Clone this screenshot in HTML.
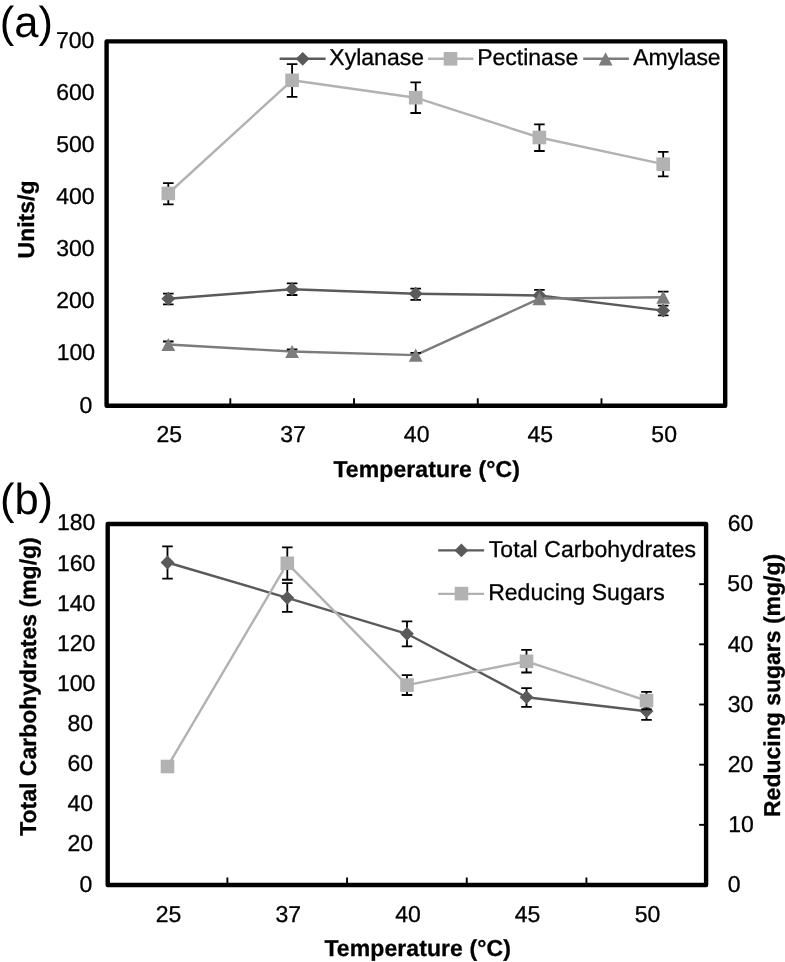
<!DOCTYPE html>
<html><head><meta charset="utf-8"><title>Temperature effect on enzyme activity</title>
<style>
html,body{margin:0;padding:0;background:#fff;}
body{width:785px;height:962px;overflow:hidden;}
svg{display:block;}
svg text{font-family:"Liberation Sans", Arial, Helvetica, sans-serif;fill:#000;text-rendering:geometricPrecision;stroke:#000;stroke-width:0.3px;}
</style></head>
<body>
<svg width="785" height="962" viewBox="0 0 785 962">
<rect width="785" height="962" fill="#fff"/>
<rect x="106.6" y="41.4" width="618.60" height="364.40" fill="none" stroke="#000" stroke-width="4.4" stroke-linejoin="round"/>
<line x1="230.32" y1="398.30" x2="230.32" y2="405.80" stroke="#000" stroke-width="1.9"/>
<line x1="354.04" y1="398.30" x2="354.04" y2="405.80" stroke="#000" stroke-width="1.9"/>
<line x1="477.76" y1="398.30" x2="477.76" y2="405.80" stroke="#000" stroke-width="1.9"/>
<line x1="601.48" y1="398.30" x2="601.48" y2="405.80" stroke="#000" stroke-width="1.9"/>
<text x="92.25" y="413.15" font-size="23.0" text-anchor="end">0</text>
<text x="95.00" y="360.46" font-size="23.0" text-anchor="end">100</text>
<text x="94.65" y="308.29" font-size="23.0" text-anchor="end">200</text>
<text x="94.65" y="256.23" font-size="23.0" text-anchor="end">300</text>
<text x="94.65" y="204.17" font-size="23.0" text-anchor="end">400</text>
<text x="94.65" y="152.11" font-size="23.0" text-anchor="end">500</text>
<text x="94.65" y="100.06" font-size="23.0" text-anchor="end">600</text>
<text x="94.30" y="47.90" font-size="23.0" text-anchor="end">700</text>
<text x="169.25" y="442.15" font-size="23.0" text-anchor="middle">25</text>
<text x="293.05" y="442.15" font-size="23.0" text-anchor="middle">37</text>
<text x="416.65" y="442.15" font-size="23.0" text-anchor="middle">40</text>
<text x="540.35" y="442.15" font-size="23.0" text-anchor="middle">45</text>
<text x="664.15" y="442.15" font-size="23.0" text-anchor="middle">50</text>
<text x="426.65" y="477.25" font-size="23.0" text-anchor="middle" textLength="186.45" lengthAdjust="spacing" font-weight="bold">Temperature (°C)</text>
<text font-size="23.0" text-anchor="middle" font-weight="bold" transform="translate(33.55 219.50) rotate(-90)">Units/g</text>
<text x="-0.25" y="37.00" font-size="43.5" stroke-width="0" style="stroke-width:0">(a)</text>
<polyline points="168.30,298.75 292.10,289.20 415.70,293.70 539.40,295.50 663.20,310.60" fill="none" stroke="#5a5a5a" stroke-width="2.4" stroke-linejoin="round" stroke-linecap="round"/>
<path d="M168.30 293.60V304.40M163.00 293.60H173.60M163.00 304.40H173.60" stroke="#000" stroke-width="1.8" fill="none" stroke-linecap="butt"/>
<path d="M292.10 283.30V295.00M286.80 283.30H297.40M286.80 295.00H297.40" stroke="#000" stroke-width="1.8" fill="none" stroke-linecap="butt"/>
<path d="M415.70 288.55V299.80M410.40 288.55H421.00M410.40 299.80H421.00" stroke="#000" stroke-width="1.8" fill="none" stroke-linecap="butt"/>
<path d="M539.40 289.90V295.50M534.10 289.90H544.70" stroke="#000" stroke-width="1.8" fill="none" stroke-linecap="butt"/>
<path d="M663.20 305.70V315.30M657.90 305.70H668.50M657.90 315.30H668.50" stroke="#000" stroke-width="1.8" fill="none" stroke-linecap="butt"/>
<path d="M168.30 291.85L175.20 298.75L168.30 305.65L161.40 298.75Z" fill="#5a5a5a"/>
<path d="M292.10 282.30L299.00 289.20L292.10 296.10L285.20 289.20Z" fill="#5a5a5a"/>
<path d="M415.70 286.80L422.60 293.70L415.70 300.60L408.80 293.70Z" fill="#5a5a5a"/>
<path d="M539.40 288.60L546.30 295.50L539.40 302.40L532.50 295.50Z" fill="#5a5a5a"/>
<path d="M663.20 303.70L670.10 310.60L663.20 317.50L656.30 310.60Z" fill="#5a5a5a"/>
<polyline points="168.30,193.50 292.10,80.30 415.70,97.70 539.40,137.50 663.20,164.20" fill="none" stroke="#b2b2b2" stroke-width="2.4" stroke-linejoin="round" stroke-linecap="round"/>
<path d="M168.30 183.10V204.40M163.00 183.10H173.60M163.00 204.40H173.60" stroke="#000" stroke-width="1.8" fill="none" stroke-linecap="butt"/>
<path d="M292.10 64.15V96.80M286.80 64.15H297.40M286.80 96.80H297.40" stroke="#000" stroke-width="1.8" fill="none" stroke-linecap="butt"/>
<path d="M415.70 82.30V113.00M410.40 82.30H421.00M410.40 113.00H421.00" stroke="#000" stroke-width="1.8" fill="none" stroke-linecap="butt"/>
<path d="M539.40 124.30V151.00M534.10 124.30H544.70M534.10 151.00H544.70" stroke="#000" stroke-width="1.8" fill="none" stroke-linecap="butt"/>
<path d="M663.20 151.90V176.40M657.90 151.90H668.50M657.90 176.40H668.50" stroke="#000" stroke-width="1.8" fill="none" stroke-linecap="butt"/>
<rect x="161.50" y="186.70" width="13.60" height="13.60" fill="#b2b2b2"/>
<rect x="285.30" y="73.50" width="13.60" height="13.60" fill="#b2b2b2"/>
<rect x="408.90" y="90.90" width="13.60" height="13.60" fill="#b2b2b2"/>
<rect x="532.60" y="130.70" width="13.60" height="13.60" fill="#b2b2b2"/>
<rect x="656.40" y="157.40" width="13.60" height="13.60" fill="#b2b2b2"/>
<polyline points="168.30,344.50 292.10,351.50 415.70,355.10 539.40,298.65 663.20,297.20" fill="none" stroke="#7c7c7c" stroke-width="2.4" stroke-linejoin="round" stroke-linecap="round"/>
<path d="M168.30 341.50V344.50M163.00 341.50H173.60" stroke="#000" stroke-width="1.8" fill="none" stroke-linecap="butt"/>
<path d="M292.10 349.30V351.50M286.80 349.30H297.40" stroke="#000" stroke-width="1.8" fill="none" stroke-linecap="butt"/>
<path d="M415.70 352.80V355.10M410.40 352.80H421.00" stroke="#000" stroke-width="1.8" fill="none" stroke-linecap="butt"/>
<path d="M663.20 291.60V297.20M657.90 291.60H668.50" stroke="#000" stroke-width="1.8" fill="none" stroke-linecap="butt"/>
<path d="M168.30 337.90L175.20 351.10L161.40 351.10Z" fill="#7c7c7c"/>
<path d="M292.10 344.90L299.00 358.10L285.20 358.10Z" fill="#7c7c7c"/>
<path d="M415.70 348.50L422.60 361.70L408.80 361.70Z" fill="#7c7c7c"/>
<path d="M539.40 292.05L546.30 305.25L532.50 305.25Z" fill="#7c7c7c"/>
<path d="M663.20 290.60L670.10 303.80L656.30 303.80Z" fill="#7c7c7c"/>
<polyline points="279.60,58.80 325.60,58.80" fill="none" stroke="#5a5a5a" stroke-width="2.4" stroke-linejoin="round" stroke-linecap="butt"/>
<path d="M302.70 51.90L309.60 58.80L302.70 65.70L295.80 58.80Z" fill="#5a5a5a"/>
<text x="329.35" y="65.05" font-size="23.0">Xylanase</text>
<polyline points="428.00,58.80 473.40,58.80" fill="none" stroke="#b2b2b2" stroke-width="2.4" stroke-linejoin="round" stroke-linecap="butt"/>
<rect x="443.70" y="52.00" width="13.60" height="13.60" fill="#b2b2b2"/>
<text x="477.20" y="65.40" font-size="23.0">Pectinase</text>
<polyline points="583.20,58.80 628.90,58.80" fill="none" stroke="#7c7c7c" stroke-width="2.4" stroke-linejoin="round" stroke-linecap="butt"/>
<path d="M605.60 52.20L612.50 65.40L598.70 65.40Z" fill="#7c7c7c"/>
<text x="633.30" y="65.40" font-size="23.0" textLength="87.20" lengthAdjust="spacing">Amylase</text>
<rect x="107.7" y="524.0" width="598.40" height="361.00" fill="none" stroke="#000" stroke-width="4.4" stroke-linejoin="round"/>
<line x1="227.38" y1="877.50" x2="227.38" y2="885.00" stroke="#000" stroke-width="1.9"/>
<line x1="347.06" y1="877.50" x2="347.06" y2="885.00" stroke="#000" stroke-width="1.9"/>
<line x1="466.74" y1="877.50" x2="466.74" y2="885.00" stroke="#000" stroke-width="1.9"/>
<line x1="586.42" y1="877.50" x2="586.42" y2="885.00" stroke="#000" stroke-width="1.9"/>
<line x1="699.10" y1="824.83" x2="706.10" y2="824.83" stroke="#000" stroke-width="1.9"/>
<line x1="699.10" y1="764.67" x2="706.10" y2="764.67" stroke="#000" stroke-width="1.9"/>
<line x1="699.10" y1="704.50" x2="706.10" y2="704.50" stroke="#000" stroke-width="1.9"/>
<line x1="699.10" y1="644.33" x2="706.10" y2="644.33" stroke="#000" stroke-width="1.9"/>
<line x1="699.10" y1="584.17" x2="706.10" y2="584.17" stroke="#000" stroke-width="1.9"/>
<text x="92.40" y="891.60" font-size="23.0" text-anchor="end">0</text>
<text x="93.10" y="851.49" font-size="23.0" text-anchor="end">20</text>
<text x="93.10" y="811.38" font-size="23.0" text-anchor="end">40</text>
<text x="93.10" y="771.27" font-size="23.0" text-anchor="end">60</text>
<text x="93.10" y="731.16" font-size="23.0" text-anchor="end">80</text>
<text x="95.35" y="691.04" font-size="23.0" text-anchor="end">100</text>
<text x="95.35" y="650.93" font-size="23.0" text-anchor="end">120</text>
<text x="95.35" y="610.82" font-size="23.0" text-anchor="end">140</text>
<text x="95.35" y="570.71" font-size="23.0" text-anchor="end">160</text>
<text x="95.35" y="530.10" font-size="23.0" text-anchor="end">180</text>
<text x="727.80" y="892.30" font-size="23.0">0</text>
<text x="728.25" y="832.18" font-size="23.0">10</text>
<text x="727.80" y="771.97" font-size="23.0">20</text>
<text x="727.80" y="711.80" font-size="23.0">30</text>
<text x="727.80" y="651.63" font-size="23.0">40</text>
<text x="727.35" y="591.47" font-size="23.0">50</text>
<text x="727.80" y="531.30" font-size="23.0">60</text>
<text x="168.45" y="922.35" font-size="23.0" text-anchor="middle">25</text>
<text x="288.25" y="922.35" font-size="23.0" text-anchor="middle">37</text>
<text x="407.95" y="922.35" font-size="23.0" text-anchor="middle">40</text>
<text x="527.45" y="922.35" font-size="23.0" text-anchor="middle">45</text>
<text x="647.45" y="922.35" font-size="23.0" text-anchor="middle">50</text>
<text x="417.65" y="956.15" font-size="23.0" text-anchor="middle" textLength="186.45" lengthAdjust="spacing" font-weight="bold">Temperature (°C)</text>
<text font-size="23.0" text-anchor="middle" font-weight="bold" transform="translate(35.55 686.55) rotate(-90)">Total Carbohydrates (mg/g)</text>
<text font-size="23.0" text-anchor="middle" font-weight="bold" transform="translate(780.30 685.40) rotate(-90)">Reducing sugars (mg/g)</text>
<text x="-0.10" y="514.00" font-size="43.5" stroke-width="0" style="stroke-width:0">(b)</text>
<polyline points="167.50,562.50 287.30,597.80 407.00,633.80 526.50,697.20 646.50,711.20" fill="none" stroke="#5a5a5a" stroke-width="2.4" stroke-linejoin="round" stroke-linecap="round"/>
<path d="M167.50 546.30V578.70M162.20 546.30H172.80M162.20 578.70H172.80" stroke="#000" stroke-width="1.8" fill="none" stroke-linecap="butt"/>
<path d="M287.30 583.10V611.90M282.00 583.10H292.60M282.00 611.90H292.60" stroke="#000" stroke-width="1.8" fill="none" stroke-linecap="butt"/>
<path d="M407.00 621.40V646.30M401.70 621.40H412.30M401.70 646.30H412.30" stroke="#000" stroke-width="1.8" fill="none" stroke-linecap="butt"/>
<path d="M526.50 688.10V706.80M521.20 688.10H531.80M521.20 706.80H531.80" stroke="#000" stroke-width="1.8" fill="none" stroke-linecap="butt"/>
<path d="M646.50 702.50V719.90M641.20 702.50H651.80M641.20 719.90H651.80" stroke="#000" stroke-width="1.8" fill="none" stroke-linecap="butt"/>
<path d="M167.50 555.60L174.40 562.50L167.50 569.40L160.60 562.50Z" fill="#5a5a5a"/>
<path d="M287.30 590.90L294.20 597.80L287.30 604.70L280.40 597.80Z" fill="#5a5a5a"/>
<path d="M407.00 626.90L413.90 633.80L407.00 640.70L400.10 633.80Z" fill="#5a5a5a"/>
<path d="M526.50 690.30L533.40 697.20L526.50 704.10L519.60 697.20Z" fill="#5a5a5a"/>
<path d="M646.50 704.30L653.40 711.20L646.50 718.10L639.60 711.20Z" fill="#5a5a5a"/>
<polyline points="167.50,766.50 287.30,563.30 407.00,685.10 526.50,661.30 646.50,700.60" fill="none" stroke="#b2b2b2" stroke-width="2.4" stroke-linejoin="round" stroke-linecap="round"/>
<path d="M287.30 547.30V579.75M282.00 547.30H292.60M282.00 579.75H292.60" stroke="#000" stroke-width="1.8" fill="none" stroke-linecap="butt"/>
<path d="M407.00 675.10V695.00M401.70 675.10H412.30M401.70 695.00H412.30" stroke="#000" stroke-width="1.8" fill="none" stroke-linecap="butt"/>
<path d="M526.50 649.80V672.50M521.20 649.80H531.80M521.20 672.50H531.80" stroke="#000" stroke-width="1.8" fill="none" stroke-linecap="butt"/>
<path d="M646.50 691.80V709.40M641.20 691.80H651.80M641.20 709.40H651.80" stroke="#000" stroke-width="1.8" fill="none" stroke-linecap="butt"/>
<rect x="160.70" y="759.70" width="13.60" height="13.60" fill="#b2b2b2"/>
<rect x="280.50" y="556.50" width="13.60" height="13.60" fill="#b2b2b2"/>
<rect x="400.20" y="678.30" width="13.60" height="13.60" fill="#b2b2b2"/>
<rect x="519.70" y="654.50" width="13.60" height="13.60" fill="#b2b2b2"/>
<rect x="639.70" y="693.80" width="13.60" height="13.60" fill="#b2b2b2"/>
<polyline points="438.20,550.40 484.10,550.40" fill="none" stroke="#5a5a5a" stroke-width="2.4" stroke-linejoin="round" stroke-linecap="butt"/>
<path d="M461.40 543.50L468.30 550.40L461.40 557.30L454.50 550.40Z" fill="#5a5a5a"/>
<text x="488.80" y="557.15" font-size="23.0" textLength="207.20" lengthAdjust="spacing">Total Carbohydrates</text>
<polyline points="438.20,593.90 484.10,593.90" fill="none" stroke="#b2b2b2" stroke-width="2.4" stroke-linejoin="round" stroke-linecap="butt"/>
<rect x="454.70" y="586.80" width="13.60" height="13.60" fill="#b2b2b2"/>
<text x="488.20" y="600.45" font-size="23.0">Reducing Sugars</text>
</svg>
</body></html>
